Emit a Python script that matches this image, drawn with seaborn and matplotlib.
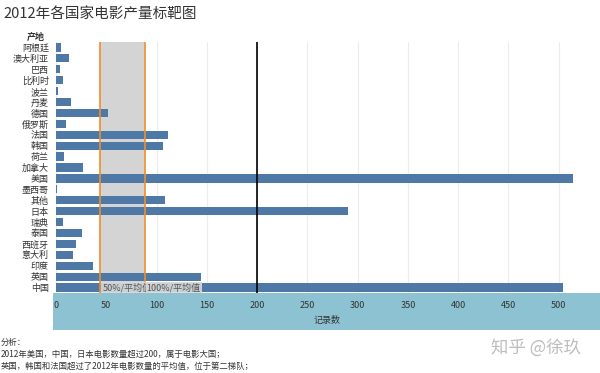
import matplotlib
matplotlib.use("Agg")
import matplotlib.pyplot as plt
import seaborn as sns
import pandas as pd
import numpy as np

sns.set_theme(style="white")
plt.rcParams['font.family'] = ['Noto Sans CJK SC', 'DejaVu Sans']

countries = ["阿根廷", "澳大利亚", "巴西", "比利时", "波兰", "丹麦", "德国", "俄罗斯", "法国", "韩国",
             "荷兰", "加拿大", "美国", "墨西哥", "其他", "日本", "瑞典", "泰国", "西班牙", "意大利",
             "印度", "英国", "中国"]
counts = [5, 13, 4, 7, 2, 15, 52, 10, 111, 106,
          8, 27, 514, 1, 108, 290, 7, 26, 20, 17,
          37, 144, 504]
xticks = [0, 50, 100, 150, 200, 250, 300, 350, 400, 450, 500]
target = 200

df = pd.DataFrame({"产地": countries, "记录数": counts})
mean_val = float(np.mean(counts))

W, H = 600, 373
fig = plt.figure(figsize=(6, 3.73), dpi=100)

# teal axis band (background axes)
band = fig.add_axes([53 / W, 1 - 330 / H, 1 - 53 / W, (330 - 293) / H])
band.set_facecolor("#8cc2d2")
band.set_xticks([]); band.set_yticks([])
for s in band.spines.values():
    s.set_visible(False)
band.set_zorder(0)

ax = fig.add_axes([53 / W, 1 - 293 / H, 1 - 53 / W, (293 - 42) / H])
ax.set_zorder(2)
ax.set_facecolor("none")

ax.set_xlim(-3, 541)
for t in xticks:
    ax.axvline(t, color="#ececec", lw=0.8, zorder=0)

ax.axvspan(mean_val * 0.5, mean_val, color="#d4d4d4", zorder=0.5, lw=0)
ax.axvline(mean_val * 0.5, color="#f28e2b", lw=1.2, zorder=3)
ax.axvline(mean_val, color="#f28e2b", lw=1.2, zorder=3)
ax.axvline(target, color="black", lw=1.2, zorder=3)

sns.barplot(data=df, y="产地", x="记录数", color="#4e79a7", saturation=1,
            width=0.75, linewidth=0, ax=ax, zorder=2, orient="h")
ax.set_ylim(len(countries) - 0.5, -0.5)

ax.set_xticks(xticks)
ax.tick_params(axis="x", labelsize=6.5, length=2.5, width=0.6, pad=3, colors="#333333")
ax.tick_params(axis="y", labelsize=6.5, length=0, pad=3, colors="#333333")
ax.set_ylabel("")
ax.set_xlabel("记录数", fontsize=6.5, color="#333333")
ax.xaxis.set_label_coords((327 - 53) / (W - 53), -(320 - 293) / (293 - 42))
ax.xaxis.label.set_va("center")
for s in ax.spines.values():
    s.set_visible(False)

ax.text(mean_val * 0.5 + 2, 22, "50%/平均值", fontsize=6.5, color="#555555", va="center", ha="left",
        bbox=dict(facecolor="#d9d9d9", edgecolor="none", pad=0.8, alpha=0.9), zorder=5)
ax.text(mean_val + 2, 22, "100%/平均值", fontsize=6.5, color="#555555", va="center", ha="left",
        bbox=dict(facecolor="#d9d9d9", edgecolor="none", pad=0.8, alpha=0.9), zorder=5)

fig.text(3 / W, 1 - 14 / H, "2012年各国家电影产量标靶图", fontsize=10.5, color="#333333", va="center")
fig.text(36 / W, 1 - 37 / H, "产地", fontsize=6.5, color="#333333", va="center", ha="center", fontweight="bold")

fig.text(1 / W, 1 - 342 / H, "分析：", fontsize=6, color="#333333", va="center")
fig.text(1 / W, 1 - 354 / H, "2012年美国，中国，日本电影数量超过200，属于电影大国；", fontsize=6, color="#333333", va="center")
fig.text(1 / W, 1 - 366 / H, "英国，韩国和法国超过了2012年电影数量的平均值，位于第二梯队；", fontsize=6, color="#333333", va="center")

fig.text(491 / W, 1 - 348 / H, "知乎 @徐玖", fontsize=12.5, color="#bdbdbd", va="center", ha="left")

fig.savefig("out.png", dpi=100)
